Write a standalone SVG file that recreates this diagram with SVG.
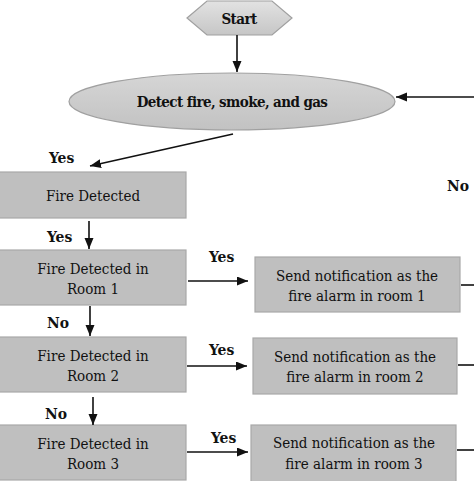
<svg xmlns="http://www.w3.org/2000/svg" width="474" height="481" viewBox="0 0 474 481">
<defs>
<style>
.box{fill:#bfbfbf;stroke:#a9a9a9;stroke-width:1.2}
.t{font-size:15px;fill:#111;text-anchor:middle}
.b{font-size:15.5px;font-weight:bold;fill:#111}
.c{text-anchor:middle}
.ln{stroke:#111;stroke-width:1.6;fill:none}
.ar{stroke:#111;stroke-width:1.6;fill:none;marker-end:url(#ah)}
</style>
<marker id="ah" markerUnits="userSpaceOnUse" markerWidth="12" markerHeight="10" refX="11" refY="4.5" orient="auto">
<path d="M0,0 L11,4.5 L0,9 z" fill="#111"/>
</marker>
<linearGradient id="gs" x1="0" y1="0" x2="0" y2="1">
<stop offset="0" stop-color="#e2e2e2"/>
<stop offset="1" stop-color="#c6c6c6"/>
</linearGradient>
<linearGradient id="ge" x1="0" y1="0" x2="0" y2="1">
<stop offset="0" stop-color="#d6d6d6"/>
<stop offset="1" stop-color="#c2c2c2"/>
</linearGradient>
</defs>
<g font-family="DejaVu Serif Condensed, DejaVu Serif, serif">
<g id="start">
<polygon points="187,18 207,1 272,1 292,18 272,35 207,35" fill="url(#gs)" stroke="#a0a0a0" stroke-width="1.2"/>
<text class="b c" x="239" y="24" style="font-size:15px" letter-spacing="-0.6">Start</text>
</g>
<g id="detect">
<ellipse cx="232" cy="101.5" rx="163" ry="28.5" fill="url(#ge)" stroke="#a0a0a0" stroke-width="1.2"/>
<text class="b c" x="232" y="107" style="font-size:15px" letter-spacing="-0.6">Detect fire, smoke, and gas</text>
</g>
<g id="fire-detected">
<rect class="box" x="-1" y="172" width="187" height="46"/>
<text class="t" x="93" y="200.5">Fire Detected</text>
</g>
<g id="room1">
<rect class="box" x="-1" y="250" width="187" height="55"/>
<text class="t" x="93" y="273.5">Fire Detected in</text>
<text class="t" x="93" y="293.5">Room 1</text>
</g>
<g id="room2">
<rect class="box" x="-1" y="337" width="187" height="55"/>
<text class="t" x="93" y="360.5">Fire Detected in</text>
<text class="t" x="93" y="380.5">Room 2</text>
</g>
<g id="room3">
<rect class="box" x="-1" y="425" width="187" height="55"/>
<text class="t" x="93" y="448.5">Fire Detected in</text>
<text class="t" x="93" y="469">Room 3</text>
</g>
<g id="send1">
<rect class="box" x="255" y="257" width="205" height="55"/>
<text class="t" x="357" y="280.5">Send notification as the</text>
<text class="t" x="357" y="300.5">fire alarm in room 1</text>
</g>
<g id="send2">
<rect class="box" x="253" y="338" width="204" height="56"/>
<text class="t" x="355" y="361.5">Send notification as the</text>
<text class="t" x="355" y="381.5">fire alarm in room 2</text>
</g>
<g id="send3">
<rect class="box" x="251" y="425" width="205" height="57"/>
<text class="t" x="354" y="447.5">Send notification as the</text>
<text class="t" x="354" y="468.5">fire alarm in room 3</text>
</g>
<g id="connectors">
<line class="ar" x1="237" y1="35" x2="237" y2="72"/>
<line class="ar" x1="474" y1="97" x2="396" y2="97"/>
<line class="ar" x1="233" y1="134" x2="90" y2="166"/>
<line class="ar" x1="89" y1="221" x2="89" y2="249"/>
<line class="ar" x1="188" y1="281" x2="248" y2="281"/>
<line class="ar" x1="90" y1="306" x2="90" y2="336"/>
<line class="ar" x1="187" y1="366" x2="247" y2="366"/>
<line class="ar" x1="93" y1="397" x2="93" y2="425"/>
<line class="ar" x1="187" y1="452" x2="248" y2="452"/>
<line class="ln" x1="461" y1="285" x2="474" y2="285"/>
<line class="ln" x1="458" y1="365" x2="474" y2="365"/>
<line class="ln" x1="457" y1="450" x2="474" y2="450"/>
<text class="b" x="49" y="163">Yes</text>
<text class="b" x="447" y="191">No</text>
<text class="b" x="47" y="242">Yes</text>
<text class="b" x="209" y="262">Yes</text>
<text class="b" x="47" y="328">No</text>
<text class="b" x="209" y="355">Yes</text>
<text class="b" x="45" y="419">No</text>
<text class="b" x="211" y="443">Yes</text>
</g>
</g>
</svg>
